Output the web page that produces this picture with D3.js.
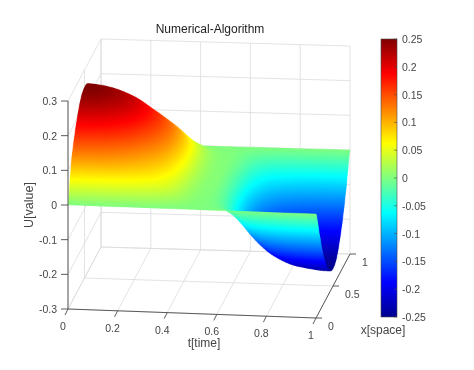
<!DOCTYPE html>
<html>
<head>
<meta charset="utf-8">
<script src="https://cdn.jsdelivr.net/npm/d3@7"></script>
<style>
  html, body { margin: 0; padding: 0; background: #fff; }
  svg { display: block; filter: blur(0.4px); }
  text { font-family: "Liberation Sans", Arial, sans-serif; fill: #454545; }
</style>
</head>
<body>
<div id="chart"></div>
<script>
// Values
const timeValues = [0, 0.05, 0.1, 0.15, 0.2, 0.25, 0.3, 0.35, 0.4, 0.45, 0.5, 0.55, 0.6, 0.65, 0.7, 0.75, 0.8, 0.85, 0.9, 0.95, 1];
const spaceValues = [0, 0.1, 0.2, 0.3, 0.4, 0.5, 0.6, 0.7, 0.8, 0.9, 1];

// One row per time value, one column per space value
const surfaceValues = [
    [0, 0.105, 0.165, 0.21, 0.24, 0.25, 0.243, 0.21, 0.155, 0.083, 0],
    [0, 0.104, 0.163, 0.208, 0.238, 0.248, 0.24, 0.208, 0.153, 0.082, 0],
    [0, 0.101, 0.158, 0.202, 0.23, 0.24, 0.233, 0.202, 0.149, 0.079, 0],
    [0, 0.096, 0.15, 0.191, 0.218, 0.228, 0.221, 0.191, 0.141, 0.075, 0],
    [0, 0.088, 0.139, 0.176, 0.202, 0.21, 0.204, 0.176, 0.13, 0.069, 0],
    [0, 0.078, 0.122, 0.155, 0.178, 0.185, 0.179, 0.155, 0.115, 0.061, 0],
    [0, 0.066, 0.104, 0.132, 0.151, 0.158, 0.153, 0.132, 0.098, 0.052, 0],
    [0, 0.053, 0.083, 0.105, 0.12, 0.125, 0.121, 0.105, 0.078, 0.041, 0],
    [0, 0.033, 0.051, 0.065, 0.074, 0.078, 0.075, 0.065, 0.048, 0.026, 0],
    [0, 0.013, 0.02, 0.025, 0.029, 0.03, 0.029, 0.025, 0.019, 0.01, 0],
    [0, 0.003, 0.005, 0.006, 0.007, 0.008, 0.007, 0.006, 0.005, 0.002, 0],
    [0, 0, 0, 0, 0, 0, 0, 0, 0, 0, 0],
    [0, -0.009, -0.018, -0.024, -0.029, -0.03, -0.029, -0.024, -0.018, -0.01, 0],
    [0, -0.029, -0.056, -0.077, -0.09, -0.095, -0.091, -0.077, -0.057, -0.03, 0],
    [0, -0.047, -0.092, -0.126, -0.148, -0.155, -0.149, -0.126, -0.093, -0.05, 0],
    [0, -0.059, -0.115, -0.158, -0.186, -0.195, -0.187, -0.158, -0.117, -0.062, 0],
    [0, -0.066, -0.13, -0.179, -0.209, -0.22, -0.211, -0.179, -0.132, -0.07, 0],
    [0, -0.071, -0.139, -0.191, -0.224, -0.235, -0.226, -0.191, -0.141, -0.075, 0],
    [0, -0.073, -0.144, -0.197, -0.231, -0.243, -0.233, -0.197, -0.146, -0.078, 0],
    [0, -0.074, -0.147, -0.201, -0.236, -0.248, -0.238, -0.201, -0.149, -0.079, 0],
    [0, -0.075, -0.148, -0.203, -0.238, -0.25, -0.24, -0.203, -0.15, -0.08, 0]
];

const timeTicks = [0, 0.2, 0.4, 0.6, 0.8, 1];
const spaceTicks = [0, 0.5, 1];
const valueTicks = [-0.3, -0.2, -0.1, 0, 0.1, 0.2, 0.3];
const colorTicks = [-0.25, -0.2, -0.15, -0.1, -0.05, 0, 0.05, 0.1, 0.15, 0.2, 0.25];

// Jet colormap
const jetStops = [-0.25, -0.1875, -0.0625, 0.0625, 0.1875, 0.25];
const jetColors = ["#00008f", "#0000ff", "#00ffff", "#ffff00", "#ff0000", "#800000"];

const width = 474, height = 370;
// interpolated shading inside each mesh cell, painted at 3x and scaled down
const timeSteps = 14, spaceSteps = 24, paintScale = 3;

const svg = d3.select("#chart").append("svg")
    .attr("width", width)
    .attr("height", height);

const color = d3.scaleLinear().domain(jetStops).range(jetColors).clamp(true);

// The floor corners of the box on screen, the rest comes from these scales
const tLeftRight = d3.scaleLinear().domain([0, 1]);
const xFrontBack = d3.scaleLinear().domain([0, 1]);
const zScale = d3.scaleLinear().domain([-0.3, 0.3]).range([0, 208]);

const corners = { fl: [68, 309], fr: [316, 318], bl: [101, 247], br: [350, 254] };

function project(t, x, z) {
    const front = [
        tLeftRight.range([corners.fl[0], corners.fr[0]])(t),
        tLeftRight.range([corners.fl[1], corners.fr[1]])(t)
    ];
    const back = [
        tLeftRight.range([corners.bl[0], corners.br[0]])(t),
        tLeftRight.range([corners.bl[1], corners.br[1]])(t)
    ];
    return [
        xFrontBack.range([front[0], back[0]])(x),
        xFrontBack.range([front[1], back[1]])(x) - zScale(z)
    ];
}

const grid = svg.append("g")
    .attr("fill", "none")
    .attr("stroke", "#dcdcdf")
    .attr("stroke-width", 0.8);

const gridLine = d3.line();

function addGridLine(a, b) {
    grid.append("path").attr("d", gridLine([a, b]));
}

// Back wall and left wall
timeTicks.forEach(t => addGridLine(project(t, 1, -0.3), project(t, 1, 0.3)));
spaceTicks.forEach(x => addGridLine(project(0, x, -0.3), project(0, x, 0.3)));
valueTicks.forEach(z => {
    addGridLine(project(0, 1, z), project(1, 1, z));
    addGridLine(project(0, 0, z), project(0, 1, z));
});

// Floor
timeTicks.forEach(t => addGridLine(project(t, 0, -0.3), project(t, 1, -0.3)));
spaceTicks.forEach(x => addGridLine(project(0, x, -0.3), project(1, x, -0.3)));

// Smooth shading between the mesh nodes
function catmull(a, b, c, d, u) {
    return 0.5 * (2 * b + (c - a) * u + (2 * a - 5 * b + 4 * c - d) * u * u + (3 * b - a - 3 * c + d) * u * u * u);
}

function nodeValue(i, j) {
    const row = surfaceValues[Math.max(0, Math.min(timeValues.length - 1, i))];
    return row[Math.max(0, Math.min(spaceValues.length - 1, j))];
}

function surfacePoint(i, j, u, v) {
    const t = timeValues[i] + (timeValues[i + 1] - timeValues[i]) * u;
    const x = spaceValues[j] + (spaceValues[j + 1] - spaceValues[j]) * v;
    const across = [-1, 0, 1, 2].map(dj =>
        catmull(nodeValue(i - 1, j + dj), nodeValue(i, j + dj), nodeValue(i + 1, j + dj), nodeValue(i + 2, j + dj), u));
    return { t, x, z: catmull(across[0], across[1], across[2], across[3], v) };
}

// Surface, painted from the back row to the front row
const canvas = document.createElement("canvas");
canvas.width = width * paintScale;
canvas.height = height * paintScale;
const ctx = canvas.getContext("2d");
ctx.scale(paintScale, paintScale);
ctx.lineWidth = 0.35;
ctx.lineJoin = "round";

for (let j = spaceValues.length - 2; j >= 0; j--) {
    for (let s = spaceSteps - 1; s >= 0; s--) {
        for (let i = 0; i < timeValues.length - 1; i++) {
            for (let r = 0; r < timeSteps; r++) {
                const u0 = r / timeSteps, u1 = (r + 1) / timeSteps;
                const v0 = s / spaceSteps, v1 = (s + 1) / spaceSteps;
                const pts = [[u0, v0], [u1, v0], [u1, v1], [u0, v1]].map(d => surfacePoint(i, j, d[0], d[1]));
                const fill = color(d3.mean(pts, p => p.z));
                ctx.beginPath();
                pts.forEach((p, k) => {
                    const q = project(p.t, p.x, p.z);
                    if (k === 0) ctx.moveTo(q[0], q[1]);
                    else ctx.lineTo(q[0], q[1]);
                });
                ctx.closePath();
                ctx.fillStyle = fill;
                ctx.strokeStyle = fill;
                ctx.fill();
                ctx.stroke();
            }
        }
    }
}

svg.append("image")
    .attr("width", width)
    .attr("height", height)
    .attr("href", canvas.toDataURL("image/png"));

// Axis lines and ticks
const axes = svg.append("g")
    .attr("fill", "none")
    .attr("stroke", "#4a4a4a")
    .attr("stroke-width", 0.9);

function addAxisLine(a, b) {
    axes.append("path").attr("d", gridLine([a, b]));
}

addAxisLine(project(0, 0, -0.3), project(1, 0, -0.3));
addAxisLine(project(1, 0, -0.3), project(1, 1, -0.3));
addAxisLine(project(0, 0, -0.3), project(0, 0, 0.3));

function addLabel(text, x, y, anchor) {
    svg.append("text")
        .attr("x", x)
        .attr("y", y)
        .attr("text-anchor", anchor)
        .attr("font-size", 10.5)
        .attr("dominant-baseline", "central")
        .text(text);
}

timeTicks.forEach(t => {
    const p = project(t, 0, -0.3);
    addAxisLine(p, [p[0] - 3, p[1] + 6]);
    addLabel(String(t), p[0] - 5, p[1] + 17, "middle");
});

spaceTicks.forEach(x => {
    const p = project(1, x, -0.3);
    addAxisLine(p, [p[0] + 6, p[1]]);
    addLabel(String(x), p[0] + 12, p[1] + 8, "start");
});

valueTicks.forEach(z => {
    const p = project(0, 0, z);
    addAxisLine(p, [p[0] - 7, p[1]]);
    addLabel(String(z), p[0] - 11, p[1], "end");
});

// Colorbar
const barX = 381, barW = 16;
const barScale = d3.scaleLinear().domain([-0.25, 0.25]).range([317, 39]);

const gradient = svg.append("defs").append("linearGradient")
    .attr("id", "jet")
    .attr("x1", 0).attr("y1", 1)
    .attr("x2", 0).attr("y2", 0);

gradient.selectAll("stop")
    .data(jetStops)
    .join("stop")
    .attr("offset", d => (d + 0.25) / 0.5)
    .attr("stop-color", d => color(d));

svg.append("rect")
    .attr("x", barX)
    .attr("y", barScale(0.25))
    .attr("width", barW)
    .attr("height", barScale(-0.25) - barScale(0.25))
    .attr("fill", "url(#jet)")
    .attr("stroke", "#4a4a4a")
    .attr("stroke-width", 0.6);

colorTicks.forEach(v => {
    svg.append("path")
        .attr("d", gridLine([[barX + barW - 3, barScale(v)], [barX + barW, barScale(v)]]))
        .attr("stroke", "#4a4a4a")
        .attr("stroke-width", 0.6);
    addLabel(String(v), barX + barW + 5, barScale(v), "start");
});

// Titles
svg.append("text")
    .attr("x", 210)
    .attr("y", 29)
    .attr("text-anchor", "middle")
    .attr("dominant-baseline", "central")
    .attr("font-size", 12)
    .style("fill", "#222")
    .text("Numerical-Algorithm");

svg.append("text")
    .attr("x", 204)
    .attr("y", 343)
    .attr("text-anchor", "middle")
    .attr("dominant-baseline", "central")
    .attr("font-size", 12)
    .text("t[time]");

svg.append("text")
    .attr("x", 383)
    .attr("y", 330)
    .attr("text-anchor", "middle")
    .attr("dominant-baseline", "central")
    .attr("font-size", 12)
    .text("x[space]");

svg.append("text")
    .attr("transform", "translate(29,205) rotate(-90)")
    .attr("text-anchor", "middle")
    .attr("dominant-baseline", "central")
    .attr("font-size", 12.5)
    .text("U[value]");
</script>
</body>
</html>
